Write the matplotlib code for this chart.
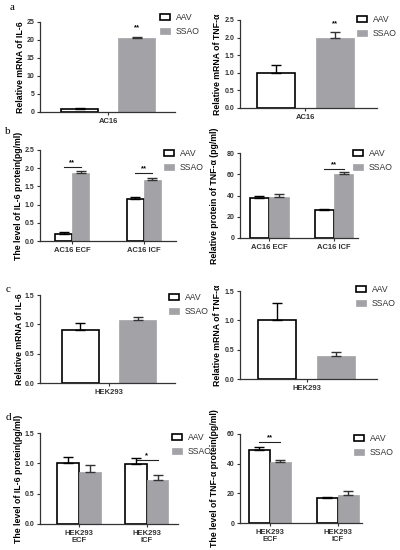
import matplotlib.pyplot as plt
import numpy as np

plt.rcParams['font.family'] = ['Liberation Sans', 'DejaVu Sans']

W, H = 400, 550

# panel a
a_cats = ["AC16"]
a_il6_aav, a_il6_aav_err = [0.8], [0.3]
a_il6_ssao, a_il6_ssao_err = [20.5], [0.4]
a_tnf_aav, a_tnf_aav_err = [1.0], [0.22]
a_tnf_ssao, a_tnf_ssao_err = [2.0], [0.15]

# panel b
b_cats = ["AC16 ECF", "AC16 ICF"]
b_il6_aav, b_il6_aav_err = [0.2, 1.15], [0.05, 0.07]
b_il6_ssao, b_il6_ssao_err = [1.87, 1.67], [0.06, 0.06]
b_tnf_aav, b_tnf_aav_err = [38, 26], [1.5, 1.0]
b_tnf_ssao, b_tnf_ssao_err = [39, 60], [2.0, 2.0]

# panel c
c_cats = ["HEK293"]
c_il6_aav, c_il6_aav_err = [0.9], [0.13]
c_il6_ssao, c_il6_ssao_err = [1.08], [0.04]
c_tnf_aav, c_tnf_aav_err = [1.0], [0.3]
c_tnf_ssao, c_tnf_ssao_err = [0.4], [0.06]

# panel d
d_cats = ["HEK293\nECF", "HEK293\nICF"]
d_il6_aav, d_il6_aav_err = [1.01, 0.99], [0.1, 0.09]
d_il6_ssao, d_il6_ssao_err = [0.85, 0.72], [0.13, 0.08]
d_tnf_aav, d_tnf_aav_err = [49, 17], [2.5, 0.7]
d_tnf_ssao, d_tnf_ssao_err = [41, 19], [1.5, 2.5]

GRAY = "#a3a3a7"
AX_COL = "#333333"

fig = plt.figure(figsize=(4, 5.5), dpi=100)


def rect(l, t, r, b):
    return [l / W, 1 - b / H, (r - l) / W, (b - t) / H]


def panel(box, cats, aav, aav_err, ssao, ssao_err, ylim, yticks, ylabel,
          xlim, off, width, leg, labx, fmt="%.1f", sig=None):
    ax = fig.add_axes(rect(*box))
    x = np.arange(len(cats))
    ax.bar(x - off, aav, width, color="white", edgecolor="black", lw=1.2,
           label="AAV", zorder=2)
    ax.bar(x + off, ssao, width, color=GRAY, edgecolor=GRAY, lw=0.5,
           label="SSAO", zorder=2)
    for xs, v, e, c in [(x - off, aav, aav_err, "black"),
                        (x + off, ssao, ssao_err, "#333333")]:
        ax.errorbar(xs, v, yerr=[np.zeros(len(v)), e], fmt="none", ecolor=c,
                    elinewidth=1, capsize=3.5, capthick=1, zorder=3)
    ax.set_xlim(*xlim)
    ax.set_ylim(*ylim)
    ax.set_yticks(yticks)
    ax.set_yticklabels([fmt % t for t in yticks])
    ax.set_xticks(x)
    ax.set_xticklabels(cats, fontweight="bold", fontsize=5.5, linespacing=1.0)
    ax.set_ylabel(ylabel, fontweight="bold", fontsize=6.3)
    ax.yaxis.set_label_coords((labx - box[0]) / (box[2] - box[0]), 0.5)
    for s in ["top", "right"]:
        ax.spines[s].set_visible(False)
    for s in ["left", "bottom"]:
        ax.spines[s].set_color(AX_COL)
        ax.spines[s].set_linewidth(0.9)
    ax.tick_params(axis="y", labelsize=5, width=0.8, length=2.5, pad=1.5,
                   colors=AX_COL)
    ax.tick_params(axis="x", width=0.8, length=2.5, pad=1.5, colors=AX_COL)
    for lab in ax.get_yticklabels():
        lab.set_fontweight("bold")
    if sig:
        for gi, ly, ty, txt, full in sig:
            if full:
                ax.plot([gi - off, gi + off], [ly, ly], color="#222222", lw=0.8)
            ax.text(gi if full else gi + off, ty, txt, ha="center",
                    va="center", fontsize=5.5, fontweight="bold")
    lg = ax.legend(loc="upper left", bbox_to_anchor=(leg[0] / W, 1 - leg[1] / H),
                   bbox_transform=fig.transFigure, frameon=False, fontsize=6.2,
                   handlelength=1.2, handleheight=0.6, handletextpad=0.6,
                   labelspacing=0.6, borderpad=0, borderaxespad=0)
    for t in lg.get_texts():
        t.set_color("#333333")
    return ax


# a
panel((40, 22, 175, 112), a_cats, a_il6_aav, a_il6_aav_err, a_il6_ssao,
      a_il6_ssao_err, (0, 25), [0, 5, 10, 15, 20, 25], "Relative mRNA of IL-6",
      (-1.85, 1.8), 0.77, 1.0, (160, 13), 25, fmt="%d",
      sig=[(0, None, 23.4, "**", False)])
panel((240, 20, 377, 108), a_cats, a_tnf_aav, a_tnf_aav_err, a_tnf_ssao,
      a_tnf_ssao_err, (0, 2.5), [0, 0.5, 1.0, 1.5, 2.0, 2.5],
      "Relative mRNA of TNF-α", (-1.72, 1.88), 0.77, 1.0, (357, 15), 222,
      sig=[(0, None, 2.38, "**", False)])

# b
panel((40, 150, 176, 241), b_cats, b_il6_aav, b_il6_aav_err, b_il6_ssao,
      b_il6_ssao_err, (0, 2.5), [0, 0.5, 1.0, 1.5, 2.0, 2.5],
      "The level of IL-6 protein(pg/ml)", (-0.45, 1.45), 0.12, 0.24, (164, 149),
      23, sig=[(0, 2.02, 2.14, "**", True), (1, 1.88, 1.98, "**", True)])
panel((240, 153, 358, 238), b_cats, b_tnf_aav, b_tnf_aav_err, b_tnf_ssao,
      b_tnf_ssao_err, (0, 80), [0, 20, 40, 60, 80],
      "Relative protein of TNF-α (pg/ml)", (-0.45, 1.37), 0.15, 0.3, (353, 149),
      219, fmt="%d", sig=[(1, 65, 68.5, "**", True)])

# c
panel((40, 295, 175, 383), c_cats, c_il6_aav, c_il6_aav_err, c_il6_ssao,
      c_il6_ssao_err, (0, 1.5), [0, 0.5, 1.0, 1.5], "Relative mRNA of IL-6",
      (-1.86, 1.78), 0.77, 1.0, (169, 293), 24)
panel((240, 291, 377, 379), c_cats, c_tnf_aav, c_tnf_aav_err, c_tnf_ssao,
      c_tnf_ssao_err, (0, 1.5), [0, 0.5, 1.0, 1.5], "Relative mRNA of TNF-α",
      (-1.75, 1.85), 0.77, 1.0, (356, 285), 222)

# d
panel((40, 433, 178, 524), d_cats, d_il6_aav, d_il6_aav_err, d_il6_ssao,
      d_il6_ssao_err, (0, 1.5), [0, 0.5, 1.0, 1.5],
      "The level of IL-6 protein(pg/ml)", (-0.57, 1.46), 0.16, 0.32, (172, 433),
      23, sig=[(1, 1.05, 1.12, "*", True)])
panel((240, 434, 362, 523), d_cats, d_tnf_aav, d_tnf_aav_err, d_tnf_ssao,
      d_tnf_ssao_err, (0, 60), [0, 20, 40, 60],
      "The level of TNF-α protein(pg/ml)", (-0.44, 1.36), 0.155, 0.31, (354, 434),
      219, fmt="%d", sig=[(0, 54.5, 57.5, "**", True)])

for lbl, x, y in [("a", 12, 8), ("b", 8, 132), ("c", 8, 290), ("d", 8, 417)]:
    fig.text(x / W, 1 - y / H, lbl, family="Liberation Serif", fontsize=8,
             ha="center", va="center")

fig.savefig("out.png", dpi=100)
